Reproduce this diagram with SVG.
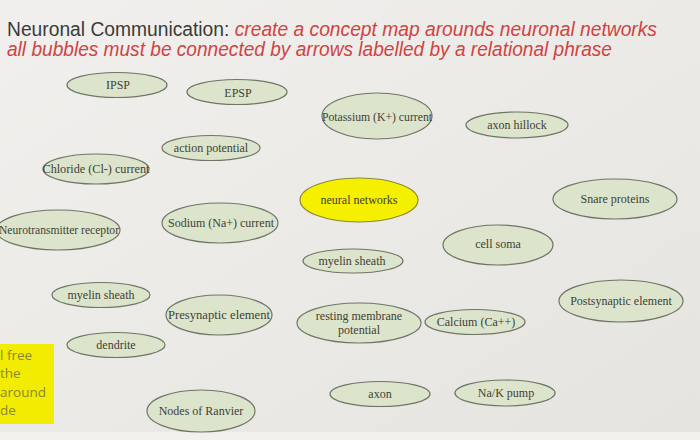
<svg xmlns="http://www.w3.org/2000/svg" width="700" height="440" viewBox="0 0 700 440">
<defs>
<linearGradient id="bg" x1="0" y1="0" x2="1" y2="1">
<stop offset="0" stop-color="#f1f0ee"/>
<stop offset="1" stop-color="#e6e4df"/>
</linearGradient>
</defs>
<style>
.n ellipse{fill:#dce5cb;stroke:#6f7566;stroke-width:1.2}
.n text{font-family:"Liberation Serif",serif;font-size:12px;fill:#3f4038;text-anchor:middle}
.hl ellipse{fill:#f5f000;stroke:#8a8a30}
.t{font-family:"Liberation Sans",Arial,sans-serif;font-size:20px}
.note{font-family:"Open Sans","Noto Sans",sans-serif;font-size:13.5px;fill:#8c8538}
</style>
<rect width="700" height="440" fill="url(#bg)"/>
<rect y="432" width="700" height="8" fill="#f2f1ee"/>
<g id="title">
<text class="t" x="7" y="36" textLength="650" lengthAdjust="spacingAndGlyphs"><tspan fill="#3a3a3a">Neuronal Communication: </tspan><tspan fill="#cf4343" font-style="italic">create a concept map arounds neuronal networks</tspan></text>
<text class="t" x="7" y="56" fill="#cf4343" font-style="italic" textLength="605" lengthAdjust="spacingAndGlyphs">all bubbles must be connected by arrows labelled by a relational phrase</text>
</g>
<g id="note">
<rect x="0" y="344" width="54" height="80" fill="#f2ec00"/>
<text class="note" x="0" y="360">l free</text>
<text class="note" x="0" y="378">the</text>
<text class="note" x="0" y="397">around</text>
<text class="note" x="0" y="415">de</text>
</g>
<g id="ipsp" class="n"><ellipse cx="117" cy="85" rx="50" ry="12.5"/><text x="118" y="89">IPSP</text></g>
<g id="epsp" class="n"><ellipse cx="237" cy="92" rx="50" ry="12.5"/><text x="238" y="97">EPSP</text></g>
<g id="potassium" class="n"><ellipse cx="377" cy="116" rx="55" ry="23"/><text x="377" y="121" textLength="110" lengthAdjust="spacingAndGlyphs">Potassium (K+) current</text></g>
<g id="axon-hillock" class="n"><ellipse cx="517" cy="125" rx="51" ry="13"/><text x="517" y="129">axon hillock</text></g>
<g id="action-potential" class="n"><ellipse cx="211" cy="148" rx="49" ry="12.5"/><text x="211" y="152">action potential</text></g>
<g id="chloride" class="n"><ellipse cx="96" cy="169" rx="53" ry="15"/><text x="96" y="173" textLength="107" lengthAdjust="spacingAndGlyphs">Chloride (Cl-) current</text></g>
<g id="neural-networks" class="n hl"><ellipse cx="359" cy="200" rx="59" ry="22"/><text x="359" y="204">neural networks</text></g>
<g id="snare" class="n"><ellipse cx="615" cy="199" rx="62" ry="20"/><text x="615" y="203">Snare  proteins</text></g>
<g id="neurotransmitter-receptor" class="n"><ellipse cx="58" cy="230" rx="62" ry="20"/><text x="59" y="234" textLength="120" lengthAdjust="spacingAndGlyphs">Neurotransmitter receptor</text></g>
<g id="sodium" class="n"><ellipse cx="220" cy="223" rx="58" ry="20"/><text x="221" y="227">Sodium (Na+) current</text></g>
<g id="cell-soma" class="n"><ellipse cx="498" cy="245" rx="55" ry="20"/><text x="498" y="248">cell soma</text></g>
<g id="myelin-sheath-2" class="n"><ellipse cx="353" cy="261" rx="50" ry="12"/><text x="352" y="265">myelin sheath</text></g>
<g id="myelin-sheath-1" class="n"><ellipse cx="101" cy="295" rx="49" ry="12.5"/><text x="101" y="299">myelin sheath</text></g>
<g id="postsynaptic" class="n"><ellipse cx="621" cy="301" rx="62" ry="21"/><text x="621" y="305">Postsynaptic element</text></g>
<g id="presynaptic" class="n"><ellipse cx="219" cy="315" rx="53" ry="20"/><text x="219" y="319" textLength="102" lengthAdjust="spacingAndGlyphs">Presynaptic element</text></g>
<g id="resting-membrane-potential" class="n"><ellipse cx="359" cy="323" rx="62" ry="20"/><text x="359" y="320">resting membrane</text><text x="359" y="334">potential</text></g>
<g id="calcium" class="n"><ellipse cx="475" cy="322" rx="50" ry="12.5"/><text x="476" y="326">Calcium (Ca++)</text></g>
<g id="dendrite" class="n"><ellipse cx="116" cy="345" rx="49" ry="12.5"/><text x="116" y="349">dendrite</text></g>
<g id="axon" class="n"><ellipse cx="380" cy="394" rx="50" ry="12.5"/><text x="380" y="398">axon</text></g>
<g id="nak-pump" class="n"><ellipse cx="505" cy="393" rx="50" ry="13"/><text x="506" y="397">Na/K pump</text></g>
<g id="nodes-of-ranvier" class="n"><ellipse cx="201" cy="411" rx="54" ry="21"/><text x="201" y="415">Nodes of Ranvier</text></g>
</svg>
